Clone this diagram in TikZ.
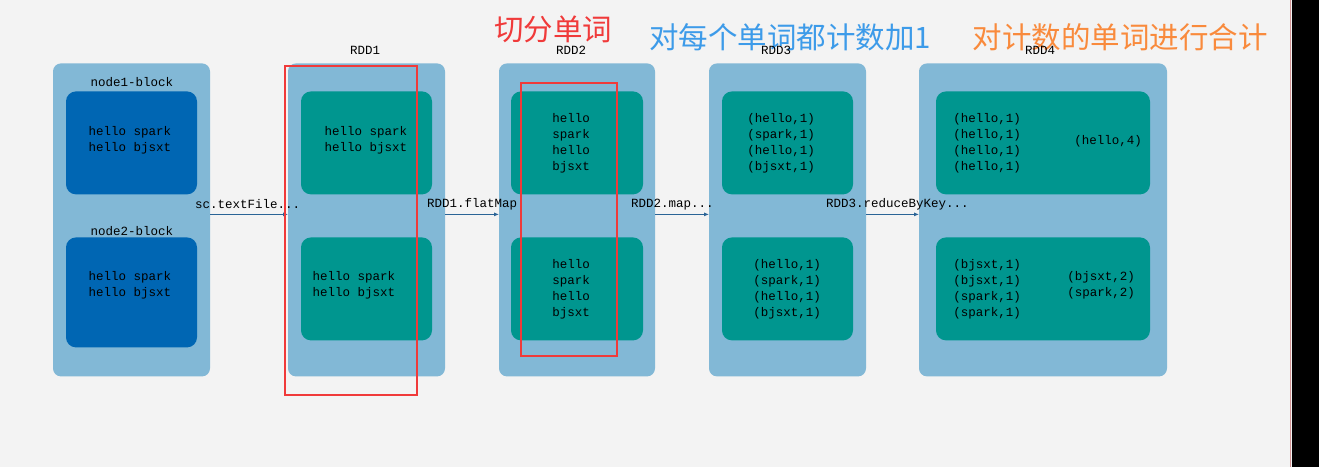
\documentclass[tikz,border=0pt]{standalone}
\usepackage{fontspec}
\usetikzlibrary{arrows.meta}
\setmonofont{Liberation Mono}
\newfontfamily\cjk{Noto Sans CJK SC}
\definecolor{bg}{HTML}{F3F3F3}
\definecolor{outerc}{HTML}{82B8D6}
\definecolor{darkb}{HTML}{0066B3}
\definecolor{teal}{HTML}{00968F}
\definecolor{redc}{HTML}{F03A3A}
\definecolor{bluet}{HTML}{3D9BE9}
\definecolor{orat}{HTML}{F98A3C}
\definecolor{arr}{HTML}{2A6496}
\begin{document}
\begin{tikzpicture}[x=1pt,y=-1pt,
  outer/.style={fill=outerc,rounded corners=8pt},
  blk/.style={fill=darkb,rounded corners=10pt},
  part/.style={fill=teal,rounded corners=10pt},
  txt/.style={font=\ttfamily\fontsize{12.5}{16}\selectfont,align=left,inner sep=0pt},
  lbl/.style={font=\ttfamily\fontsize{12.5}{16}\selectfont,inner sep=0pt,anchor=west},
  conn/.style={draw=arr,line width=0.8pt,-{Latex[length=5pt,width=4pt]}},
  redbox/.style={draw=redc,line width=2pt},
  title/.style={font=\cjk\fontsize{29.5}{32}\selectfont,inner sep=0pt}]
\fill[bg] (0,0) rectangle (1319,467);
\fill[black] (1292,0) rectangle (1319,467);
\draw[color=gray!60!red!60,line width=0.8pt] (1290,0) -- (1290,467);
\useasboundingbox (0,0) rectangle (1319,467);
% titles
\node[title,text=redc] (t1) at (553,29) {切分单词};
\node[title,text=bluet] (t2) at (790,37) {对每个单词都计数加1};
\node[title,text=orat] (t3) at (1120,37) {对计数的单词进行合计};
% column 0
\fill[outer] (53,63) rectangle (210,376);
\coordinate (c0l) at (53,214); \coordinate (c0r) at (210,214);
\node[txt] (n1l) at (132,82) {node1-block};
\fill[blk] (66,91) rectangle (197,194);
\node[txt] (n1t) at (130,140) {hello spark\\hello bjsxt};
\node[txt] (n2l) at (132,231) {node2-block};
\fill[blk] (66,237) rectangle (197,347);
\node[txt] (n2t) at (130,285) {hello spark\\hello bjsxt};
% RDD1
\node[txt] (r1) at (365,50) {RDD1};
\fill[outer] (288,63) rectangle (445,376);
\fill[part] (301,91) rectangle (432,194);
\fill[part] (301,237) rectangle (432,340);
\node[txt] (r1a) at (366,140) {hello spark\\hello bjsxt};
\node[txt] (r1b) at (354,285) {hello spark\\hello bjsxt};
\coordinate (c1l) at (288,214); \coordinate (c1r) at (445,214);
% RDD2
\node[txt] (r2) at (571,50) {RDD2};
\fill[outer] (499,63) rectangle (655,376);
\fill[part] (511,91) rectangle (643,194);
\fill[part] (511,237) rectangle (643,340);
\node[txt,align=center] (r2a) at (571,143) {hello\\spark\\hello\\bjsxt};
\node[txt,align=center] (r2b) at (571,289) {hello\\spark\\hello\\bjsxt};
\coordinate (c2l) at (499,214); \coordinate (c2r) at (655,214);
% RDD3
\node[txt] (r3) at (776,50) {RDD3};
\fill[outer] (709,63) rectangle (866,376);
\fill[part] (722,91) rectangle (853,194);
\fill[part] (722,237) rectangle (853,340);
\node[txt] (r3a) at (781,143) {(hello,1)\\(spark,1)\\(hello,1)\\(bjsxt,1)};
\node[txt] (r3b) at (787,289) {(hello,1)\\(spark,1)\\(hello,1)\\(bjsxt,1)};
\coordinate (c3l) at (709,214); \coordinate (c3r) at (866,214);
% RDD4
\node[txt] (r4) at (1040,50) {RDD4};
\fill[outer] (919,63) rectangle (1167,376);
\fill[part] (936,91) rectangle (1150,194);
\fill[part] (936,237) rectangle (1150,340);
\node[txt] (r4a) at (987,143) {(hello,1)\\(hello,1)\\(hello,1)\\(hello,1)};
\node[txt] (r4b) at (1108,141) {(hello,4)};
\node[txt] (r4c) at (987,289) {(bjsxt,1)\\(bjsxt,1)\\(spark,1)\\(spark,1)};
\node[txt] (r4d) at (1101,285) {(bjsxt,2)\\(spark,2)};
\coordinate (c4l) at (919,214);
% connectors
\draw[conn] (c0r) -- (c1l);
\draw[conn] (c1r) -- (c2l);
\draw[conn] (c2r) -- (c3l);
\draw[conn] (c3r) -- (c4l);
\node[lbl] (e1) at (195,204) {sc.textFile...};
\node[lbl] (e2) at (427,204) {RDD1.flatMap};
\node[lbl] (e3) at (631,204) {RDD2.map...};
\node[lbl] (e4) at (826,204) {RDD3.reduceByKey...};
% red highlight boxes
\draw[redbox] (285,66) rectangle (417,395);
\draw[redbox] (521,83) rectangle (617,356);
\end{tikzpicture}
\end{document}
